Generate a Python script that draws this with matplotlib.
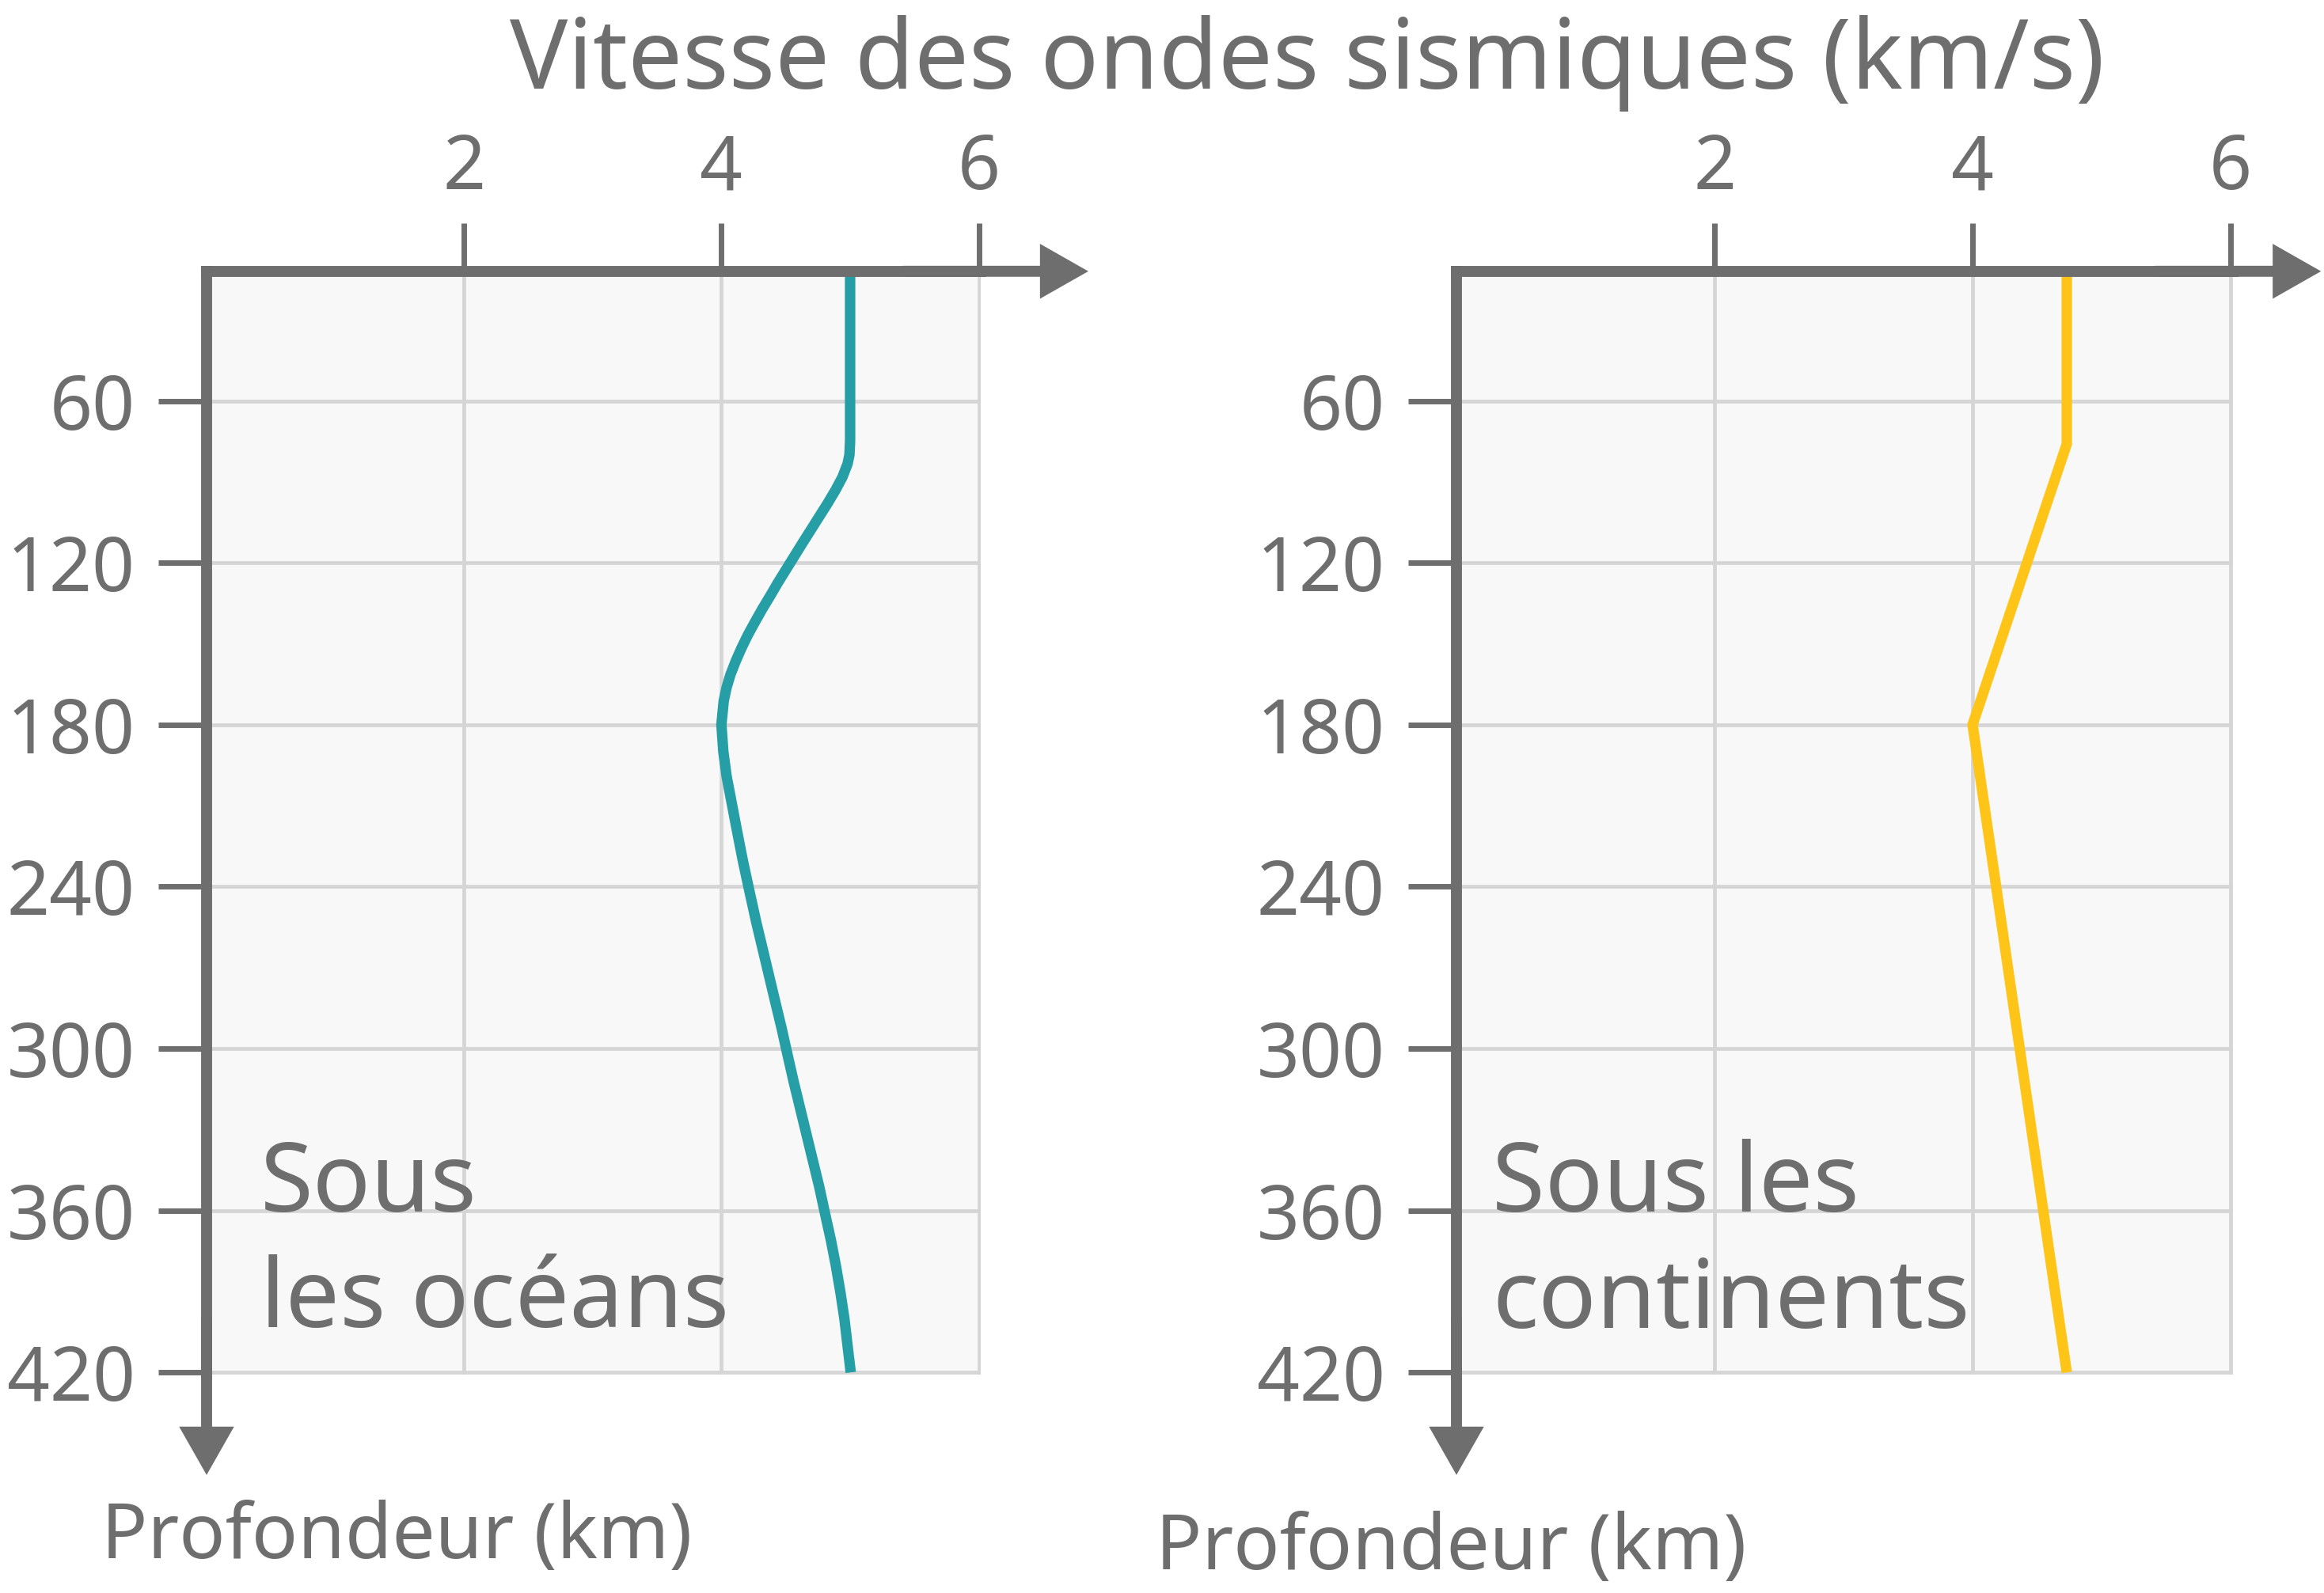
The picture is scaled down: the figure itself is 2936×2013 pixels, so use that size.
import matplotlib
matplotlib.use("Agg")
from matplotlib import pyplot as plt

# ---------------------------------------------------------------------------
# Data
# ---------------------------------------------------------------------------
velocity_ticks = [2, 4, 6]
depth_ticks = [60, 120, 180, 240, 300, 360, 420]

ocean_depth = [12, 74.6, 80, 83.4, 88.3, 93.2, 98, 102.9, 107.8, 112.7, 120, 127.3, 132.2,
               137.1, 142, 146.8, 151.7, 156.6, 161.5, 166.3, 171.2, 180, 190, 199, 209,
               219, 230, 240, 253, 267, 283, 292.5, 300, 312, 321.8, 331.6, 341.4, 351.2,
               360, 370.8, 380.6, 390.4, 400.2, 410, 420]
ocean_speed = [5.0, 5.0, 4.995, 4.98, 4.94, 4.885, 4.825, 4.76, 4.695, 4.63, 4.535, 4.44, 4.38,
               4.318, 4.26, 4.205, 4.155, 4.11, 4.07, 4.04, 4.018, 4.0, 4.015, 4.04, 4.08,
               4.12, 4.165, 4.21, 4.27, 4.34, 4.42, 4.468, 4.503, 4.56, 4.61, 4.66, 4.71, 4.76,
               4.80, 4.85, 4.89, 4.925, 4.956, 4.98, 5.005]

continent_depth = [12, 76, 180, 420]
continent_speed = [4.73, 4.73, 4.0, 4.73]

title = "Vitesse des ondes sismiques (km/s)"
depth_label = "Profondeur (km)"

# ---------------------------------------------------------------------------
W, H = 2936, 2013
DPI = 100
GRAY = "#6e6e6e"
GRID = "#d5d5d5"
BG = "#f8f8f8"
TEAL = "#259ea6"
YELLOW = "#fec418"
FONT = "Noto Sans"

plt.rcParams['font.family'] = [FONT, 'DejaVu Sans']
plt.rcParams['font.weight'] = 500

fig = plt.figure(figsize=(W / DPI, H / DPI), dpi=DPI)


def px_axes(x0, x1, y_top, y_bot):
    return fig.add_axes([x0 / W, 1 - y_bot / H, (x1 - x0) / W, (y_bot - y_top) / H])


def arrow(ax, start, base, tip):
    # shaft then a filled triangular head
    ax.annotate("", xy=base, xytext=start, xycoords="axes fraction",
                arrowprops=dict(arrowstyle="-", lw=10, color=GRAY, shrinkA=0, shrinkB=0),
                annotation_clip=False)
    ax.annotate("", xy=tip, xytext=base, xycoords="axes fraction",
                arrowprops=dict(arrowstyle="-|>,head_length=44,head_width=25", mutation_scale=1,
                                lw=0, color=GRAY, shrinkA=0, shrinkB=0),
                annotation_clip=False)


def setup(ax, head_base_x, tip_x):
    ax.set_facecolor(BG)
    ax.set_xlim(0, 6.015)
    ax.set_ylim(420.8, 12)
    ax.set_xticks(velocity_ticks)
    ax.set_yticks(depth_ticks)
    ax.xaxis.tick_top()
    ax.grid(True, color=GRID, lw=3.4, zorder=0)
    ax.set_axisbelow(True)
    for side in ["right", "bottom"]:
        ax.spines[side].set_visible(False)
    for side in ["top", "left"]:
        ax.spines[side].set_color(GRAY)
        ax.spines[side].set_linewidth(10)
        ax.spines[side].set_capstyle("projecting")
    ax.tick_params(axis="x", length=44, width=5, color=GRAY, pad=14,
                   labelsize=68, labelcolor=GRAY)
    ax.tick_params(axis="y", length=44, width=5, color=GRAY, pad=21,
                   labelsize=68, labelcolor=GRAY)
    arrow(ax, (0.9, 1), (head_base_x, 1), (tip_x, 1))
    arrow(ax, (0, 0.05), (0, -0.047), (0, -0.091))


ax1 = px_axes(261, 1239, 342.8, 1737)
setup(ax1, 1.078, 1.139)
ax1.plot(ocean_speed, ocean_depth, color=TEAL, lw=9.5, solid_capstyle="butt", solid_joinstyle="round")

ax2 = px_axes(1840, 2820.5, 342.8, 1737)
setup(ax2, 1.052, 1.114)
ax2.plot(continent_speed, continent_depth, color=YELLOW, lw=9.5, solid_capstyle="butt")


def ftext(x, y, s, size, ha="left"):
    fig.text(x / W, 1 - y / H, s, fontsize=size, color=GRAY, ha=ha, va="baseline")


ftext(1651, 111.7, title, 88, ha="center")
ftext(128, 1969, depth_label, 69.5)
ftext(1460, 1983, depth_label, 69.5)

ftext(329, 1531, "Sous", 87.5)
ftext(329, 1677, "les océans", 87.5)
ftext(1885, 1531, "Sous les", 87.5)
ftext(1885, 1678, "continents", 87.5)

fig.savefig("out.png", dpi=DPI)
